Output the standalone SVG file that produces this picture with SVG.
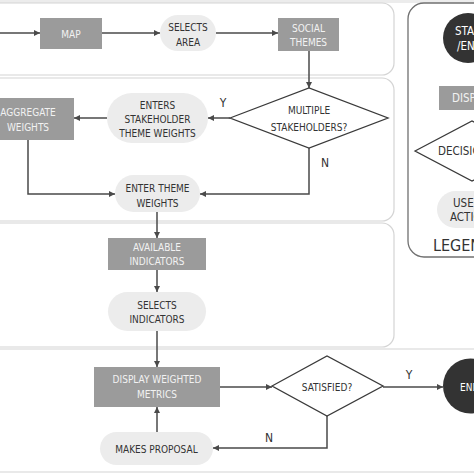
<svg xmlns="http://www.w3.org/2000/svg" width="474" height="474" viewBox="0 0 474 474">
<style>
.panel{fill:#ffffff;stroke:#d4d4d4;stroke-width:1.2}
.legend{fill:#ffffff;stroke:#707070;stroke-width:1.3}
.box{fill:#9b9b9b}
.pill{fill:#ececec}
.dia{fill:#ffffff;stroke:#3a3a3a;stroke-width:1.3}
.term{fill:#333333}
text{font-family:"DejaVu Sans Condensed","DejaVu Sans","Liberation Sans",sans-serif;font-stretch:condensed;font-size:10px}
.tb{fill:#f2f2f2;text-anchor:middle}
.tp{fill:#333333;text-anchor:middle}
.tw{fill:#ffffff}
.ts{fill:#333333}
.lg{font-size:11.5px}
.lbl{fill:#333333;font-size:12px;text-anchor:middle}
.conn{fill:none;stroke:#4a4a4a;stroke-width:1.5}
</style>
<defs>
<marker id="ah" viewBox="0 0 10 10" refX="10" refY="5" markerWidth="4" markerHeight="4" orient="auto" markerUnits="strokeWidth">
<path d="M0,0 L10,5 L0,10 z" fill="#4a4a4a"/>
</marker>
</defs>
<rect x="0" y="0" width="474" height="474" fill="#ffffff"/>
<rect x="0" y="0" width="474" height="3" fill="#ececec"/>
<g id="panels">
<rect class="panel" x="-20" y="3" width="414" height="72" rx="12"/>
<rect class="panel" x="-20" y="78" width="414" height="143" rx="12"/>
<rect class="panel" x="-20" y="223" width="414" height="124" rx="12"/>
<rect class="panel" x="-20" y="349" width="520" height="123" rx="12"/>
</g>
<g id="legend">
<rect class="legend" x="408" y="3" width="120" height="254" rx="16"/>
<circle class="term" cx="468" cy="38" r="25"/>
<text class="tw lg" x="455" y="35">START</text>
<text class="tw lg" x="457" y="50">/END</text>
<rect class="box" x="439" y="86" width="62" height="24"/>
<text class="tw lg" x="452" y="102" style="fill:#f2f2f2">DISPLAY</text>
<polygon class="dia" points="415,151 472,121 529,151 472,181"/>
<text class="ts lg" x="438" y="155">DECISION</text>
<rect class="pill" x="437" y="191" width="72" height="37" rx="18.5"/>
<text class="ts lg" x="453" y="206.5">USER</text>
<text class="ts lg" x="450" y="220.5">ACTION</text>
<text class="ts" x="433" y="251" style="font-size:16px">LEGEND</text>
</g>
<g id="connectors">
<path class="conn" d="M0,33 H40" marker-end="url(#ah)"/>
<path class="conn" d="M102,33 H160" marker-end="url(#ah)"/>
<path class="conn" d="M216,33 H278" marker-end="url(#ah)"/>
<path class="conn" d="M309,51 V88" marker-end="url(#ah)"/>
<path class="conn" d="M230,118 H208" marker-end="url(#ah)"/>
<path class="conn" d="M107,118 H74" marker-end="url(#ah)"/>
<path class="conn" d="M28,140 V194 H115" marker-end="url(#ah)"/>
<path class="conn" d="M309,148 V194 H200" marker-end="url(#ah)"/>
<path class="conn" d="M157,212 V238" marker-end="url(#ah)"/>
<path class="conn" d="M157,270 V292" marker-end="url(#ah)"/>
<path class="conn" d="M157,331 V367" marker-end="url(#ah)"/>
<path class="conn" d="M220,387 H272" marker-end="url(#ah)"/>
<path class="conn" d="M383,387 H443" marker-end="url(#ah)"/>
<path class="conn" d="M327,416 V448 H213" marker-end="url(#ah)"/>
<path class="conn" d="M157,432 V407" marker-end="url(#ah)"/>
<text class="lbl" x="223" y="106.5">Y</text>
<text class="lbl" x="325" y="166.5">N</text>
<text class="lbl" x="409" y="378.5">Y</text>
<text class="lbl" x="269" y="441.5">N</text>
</g>
<g id="map">
<rect class="box" x="40" y="18" width="62" height="31"/>
<text class="tb" x="71" y="37.5">MAP</text>
</g>
<g id="selects-area">
<rect class="pill" x="160" y="15" width="56" height="36" rx="18"/>
<text class="tp" x="188" y="30.5">SELECTS</text>
<text class="tp" x="188" y="45.5">AREA</text>
</g>
<g id="social-themes">
<rect class="box" x="278" y="18" width="61" height="33"/>
<text class="tb" x="308.5" y="31.5">SOCIAL</text>
<text class="tb" x="308.5" y="45.5">THEMES</text>
</g>
<g id="multiple-stakeholders">
<polygon class="dia" points="230,118 309,88 388,118 309,148"/>
<text class="tp" x="309" y="113.5">MULTIPLE</text>
<text class="tp" x="309" y="130.5">STAKEHOLDERS?</text>
</g>
<g id="enters-stakeholder">
<rect class="pill" x="107" y="93" width="101" height="50" rx="25"/>
<text class="tp" x="157.5" y="108.5">ENTERS</text>
<text class="tp" x="157.5" y="122.5">STAKEHOLDER</text>
<text class="tp" x="157.5" y="136.5">THEME WEIGHTS</text>
</g>
<g id="aggregate-weights">
<rect class="box" x="-18" y="98" width="92" height="42"/>
<text class="tb" x="28" y="115.5">AGGREGATE</text>
<text class="tb" x="28" y="130.5">WEIGHTS</text>
</g>
<g id="enter-theme-weights">
<rect class="pill" x="115" y="175" width="85" height="37" rx="18.5"/>
<text class="tp" x="157.5" y="191.5">ENTER THEME</text>
<text class="tp" x="157.5" y="206.5">WEIGHTS</text>
</g>
<g id="available-indicators">
<rect class="box" x="108" y="238" width="98" height="32"/>
<text class="tb" x="157" y="250.5">AVAILABLE</text>
<text class="tb" x="157" y="264.5">INDICATORS</text>
</g>
<g id="selects-indicators">
<rect class="pill" x="108" y="292" width="98" height="39" rx="19.5"/>
<text class="tp" x="157" y="308.5">SELECTS</text>
<text class="tp" x="157" y="322.5">INDICATORS</text>
</g>
<g id="display-weighted-metrics">
<rect class="box" x="94" y="367" width="126" height="40"/>
<text class="tb" x="157" y="382.5">DISPLAY WEIGHTED</text>
<text class="tb" x="157" y="397.5">METRICS</text>
</g>
<g id="satisfied">
<polygon class="dia" points="272,386 327,356 383,386 327,416"/>
<text class="tp" x="327" y="390.5">SATISFIED?</text>
</g>
<g id="end">
<circle class="term" cx="470.5" cy="386" r="27.5"/>
<text class="tw" x="460" y="390.5">END</text>
</g>
<g id="makes-proposal">
<rect class="pill" x="100" y="432" width="113" height="33" rx="16.5"/>
<text class="tp" x="156.5" y="452.5">MAKES PROPOSAL</text>
</g>
</svg>
